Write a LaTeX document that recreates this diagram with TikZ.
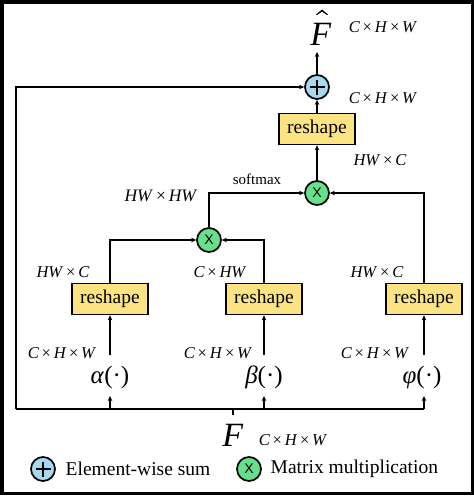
\documentclass[tikz,border=0pt]{standalone}
\usepackage{fontspec}
\setmainfont{Liberation Serif}
\newfontfamily\sansf{Liberation Sans}
\usetikzlibrary{arrows.meta}
\definecolor{plusblue}{RGB}{168,216,240}
\definecolor{mulgreen}{RGB}{102,224,138}
\definecolor{boxyellow}{RGB}{252,228,130}
\begin{document}
\begin{tikzpicture}[x=1pt,y=-1pt,
  line width=1.4pt,
  arr/.style={-{Stealth[length=5pt,width=4.5pt]}},
  sumnode/.style={circle, draw, line width=1.7pt, fill=plusblue, minimum size=24pt, inner sep=0pt,
    path picture={\draw[line width=2.3pt]
      ([xshift=-7.5pt]path picture bounding box.center) -- ([xshift=7.5pt]path picture bounding box.center)
      ([yshift=-7.5pt]path picture bounding box.center) -- ([yshift=7.5pt]path picture bounding box.center);}},
  mulnode/.style={circle, draw, line width=1.7pt, fill=mulgreen, minimum size=24pt, inner sep=0pt,
    font=\sansf\fontsize{14}{14}\selectfont},
  rsbox/.style={draw, fill=boxyellow, line width=1.6pt, minimum width=76pt, minimum height=31pt,
    inner sep=0pt, font=\fontsize{19.5}{20}\selectfont},
  dim/.style={font=\fontsize{16.5}{17}\selectfont, inner sep=0pt},
  fn/.style={font=\fontsize{25}{26}\selectfont, inner sep=0pt, anchor=base},
  big/.style={font=\fontsize{34}{36}\selectfont, inner sep=0pt, anchor=base},
  legend/.style={font=\fontsize{19.5}{20}\selectfont, inner sep=0pt, anchor=west}
]
\useasboundingbox (0,0) rectangle (474,501);
\draw[line width=3.5pt] (1.75,1.75) rectangle (472.25,493.25);

% nodes
\node[big] (Fhat) at (321,45) {\textit{F}};
\begin{scope}[shift={(Fhat.north)}]
  \fill (-5,-7.5) -- (1,-12.5) -- (7,-7.5) -- (6,-7) -- (1,-10.5) -- (-4,-7) -- cycle;
\end{scope}
\node[sumnode] (psum) at (317,87) {};
\node[rsbox] (rs0) at (317,129) {reshape};
\node[mulnode] (xtop) at (317,193) {X};
\node[mulnode] (xbot) at (209,240) {X};
\node[rsbox] (rsL) at (110,299) {reshape};
\node[rsbox] (rsM) at (264,299) {reshape};
\node[rsbox] (rsR) at (424,299) {reshape};
\node[fn] (alpha) at (110,383) {\textit{α}(·)};
\node[fn] (beta) at (264,383) {\textit{β}(·)};
\node[fn] (phi) at (422,383) {\textit{φ}(·)};
\node[big] (F) at (233,446) {\textit{F}};

% dimension labels
\node[dim] (d1) at (383,27) {\textit{C}\,×\,\textit{H}\,×\,\textit{W}};
\node[dim] (d2) at (383,98) {\textit{C}\,×\,\textit{H}\,×\,\textit{W}};
\node[dim] (d3) at (380,160) {\textit{HW}\,×\,\textit{C}};
\node[font=\fontsize{15}{16}\selectfont, inner sep=0pt] (sm) at (257,179) {softmax};
\node[dim, font=\fontsize{17.5}{18}\selectfont] (d4) at (161,196) {\textit{HW}\,×\,\textit{HW}};
\node[dim] (d5) at (63,272) {\textit{HW}\,×\,\textit{C}};
\node[dim] (d6) at (220,272) {\textit{C}\,×\,\textit{HW}};
\node[dim] (d7) at (377,272) {\textit{HW}\,×\,\textit{C}};
\node[dim] (d8) at (62,353) {\textit{C}\,×\,\textit{H}\,×\,\textit{W}};
\node[dim] (d9) at (218,353) {\textit{C}\,×\,\textit{H}\,×\,\textit{W}};
\node[dim] (d10) at (375,353) {\textit{C}\,×\,\textit{H}\,×\,\textit{W}};
\node[dim] (d11) at (293,440) {\textit{C}\,×\,\textit{H}\,×\,\textit{W}};

% connectors
\coordinate (busL) at (16,409);
\coordinate (busR) at (424,409);
\coordinate (Fj) at (233,409);
\coordinate (Ft) at (233,415);
\coordinate (fhin) at (317,52);
\draw (busL) -- (busR);
\draw (Ft) -- (Fj);
\draw[arr] (busL) |- (psum.west);
\draw[arr] (alpha.south |- busL) -- ([yshift=-7pt]alpha.south);
\draw[arr] (beta.south |- busL) -- ([yshift=-7pt]beta.south);
\draw[arr] (rsR.south |- busL) -- ([yshift=-7pt]rsR.south |- phi.south);
\draw[arr] ([yshift=10pt]alpha.north) -- (rsL.south);
\draw[arr] ([yshift=10pt]beta.north) -- (rsM.south);
\draw[arr] ([yshift=10pt]rsR.south |- phi.north) -- (rsR.south);
\draw[arr] (rsL.north) |- (xbot.west);
\draw[arr] (rsM.north) |- (xbot.east);
\draw[arr] (xbot.north) |- (xtop.west);
\draw[arr] (rsR.north) |- (xtop.east);
\draw[arr] (xtop.north) -- (rs0.south);
\draw[arr] (rs0.north) -- (psum.south);
\draw[arr] (psum.north) -- (fhin);

% legend
\node[sumnode] (lsum) at (43,469) {};
\node[legend] (lsumt) at (65,469) {Element-wise sum};
\node[mulnode] (lmul) at (249,469) {X};
\node[legend] (lmult) at (270,469) {Matrix multiplication};
\end{tikzpicture}
\end{document}
